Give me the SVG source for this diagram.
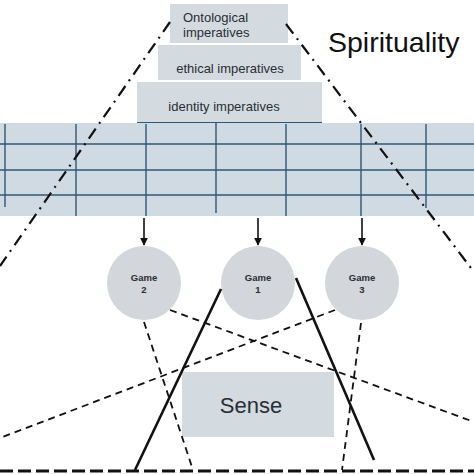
<svg xmlns="http://www.w3.org/2000/svg" width="474" height="474" viewBox="0 0 474 474">
<defs>
<style>
.box{fill:#d3dbe1;stroke:none}
.lbl{font-family:"Liberation Sans",Arial,sans-serif;fill:#2a2e33;text-anchor:middle}
.lbl.start{text-anchor:start}
.grid{stroke:#2e5877;stroke-width:1.4}
.game{fill:#d3d6da}
.gtxt{font-family:"Liberation Sans",Arial,sans-serif;font-weight:bold;font-size:9.5px;fill:#2a2e33;text-anchor:middle}
.dashdot{fill:none;stroke:#111;stroke-width:2.2;stroke-dasharray:12 6 2 6}
.dash{fill:none;stroke:#111;stroke-width:1.8;stroke-dasharray:7 5}
.solid{fill:none;stroke:#111;stroke-width:2.6}
.arrow{stroke:#111;stroke-width:1.6;marker-end:url(#ah)}
</style>
<marker id="ah" viewBox="0 0 10 10" refX="9" refY="5" markerWidth="5" markerHeight="5" orient="auto" markerUnits="strokeWidth">
<path d="M0,0 L10,5 L0,10 z" fill="#111"/>
</marker>
</defs>
<rect width="474" height="474" fill="#fff"/>

<g id="grid">
<rect x="0" y="123" width="474" height="93" fill="#d0dae2"/>
<line class="grid" x1="0" y1="144" x2="474" y2="144"/>
<line class="grid" x1="0" y1="170" x2="474" y2="170"/>
<line class="grid" x1="0" y1="195" x2="474" y2="195"/>
<line class="grid" x1="5" y1="124" x2="5" y2="207"/>
<line class="grid" x1="76" y1="124" x2="76" y2="216"/>
<line class="grid" x1="146" y1="124" x2="146" y2="216"/>
<line class="grid" x1="216" y1="120" x2="216" y2="213"/>
<line class="grid" x1="286" y1="124" x2="286" y2="216"/>
<line class="grid" x1="361" y1="124" x2="361" y2="216"/>
<line class="grid" x1="426" y1="124" x2="426" y2="208"/>
</g>

<g id="ontological">
<rect class="box" x="170" y="4" width="118" height="39"/>
<text class="lbl start" font-size="13" x="183" y="22">Ontological</text>
<text class="lbl start" font-size="13" x="183" y="37">imperatives</text>
</g>
<g id="ethical">
<rect class="box" x="158" y="45" width="143" height="35"/>
<text class="lbl" font-size="13" x="230" y="73">ethical imperatives</text>
</g>
<g id="identity">
<rect class="box" x="137" y="82" width="185" height="40"/>
<line x1="137" y1="122.5" x2="322" y2="122.5" stroke="#2e5877" stroke-width="1"/>
<text class="lbl" font-size="13" x="224" y="111">identity imperatives</text>
</g>

<g id="spirituality">
<text font-family="&quot;Liberation Sans&quot;,Arial,sans-serif" font-size="28.5" fill="#111" x="328" y="52">Spirituality</text>
</g>

<g id="game2">
<circle class="game" cx="144" cy="283" r="37"/>
<text class="gtxt" x="144" y="281">Game</text>
<text class="gtxt" x="144" y="293">2</text>
</g>
<g id="game1">
<circle class="game" cx="258" cy="283" r="37"/>
<text class="gtxt" x="258" y="281">Game</text>
<text class="gtxt" x="258" y="293">1</text>
</g>
<g id="game3">
<circle class="game" cx="362" cy="283" r="37"/>
<text class="gtxt" x="362" y="281">Game</text>
<text class="gtxt" x="362" y="293">3</text>
</g>

<g id="sense">
<rect class="box" x="182" y="372" width="152" height="65"/>
<text class="lbl" font-size="22" x="251" y="413">Sense</text>
</g>

<g id="connectors">
<line class="dashdot" x1="170" y1="22" x2="0" y2="266"/>
<line class="dashdot" x1="286" y1="24" x2="474" y2="272"/>
<line class="arrow" x1="144" y1="218" x2="144" y2="245"/>
<line class="arrow" x1="258" y1="218" x2="258" y2="245"/>
<line class="arrow" x1="362" y1="218" x2="362" y2="245"/>
<line class="dash" x1="144" y1="322" x2="193" y2="470"/>
<line class="dash" x1="170" y1="310" x2="474" y2="422"/>
<line class="dash" x1="335" y1="310" x2="0" y2="438"/>
<line class="dash" x1="361" y1="323" x2="342" y2="470"/>
<line class="solid" x1="221" y1="289" x2="135" y2="470"/>
<line class="solid" x1="296" y1="278" x2="374" y2="460"/>
<line x1="0" y1="471" x2="474" y2="471" stroke="#111" stroke-width="3" stroke-dasharray="13 5"/>
</g>
</svg>
